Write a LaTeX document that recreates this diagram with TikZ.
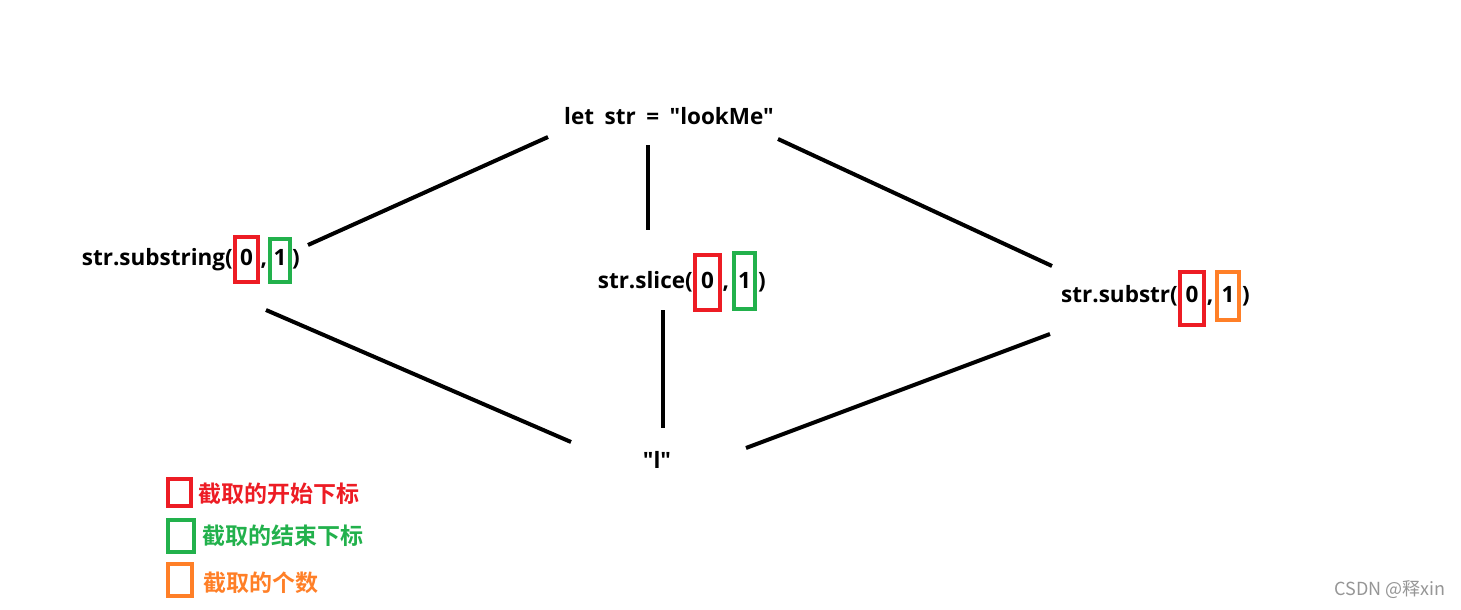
\documentclass[tikz,border=0pt]{standalone}
\usepackage{fontspec}
\newfontfamily\codefont{Open Sans Bold}[WordSpace=1.8]
\newfontfamily\cjk{Noto Sans CJK SC Bold}
\newfontfamily\cjklight{Noto Sans CJK SC}
\definecolor{boxred}{RGB}{237,28,36}
\definecolor{boxgreen}{RGB}{34,177,76}
\definecolor{boxorange}{RGB}{255,127,39}
\definecolor{markgray}{RGB}{150,150,150}
\tikzset{
  code/.style={font=\fontsize{22.5}{26}\selectfont\codefont, inner sep=0pt},
  key/.style={font=\fontsize{23}{27}\selectfont\cjk, inner sep=0pt, anchor=west},
  idx/.style={draw=#1, line width=4pt},
  edge/.style={line width=4pt}
}

\begin{document}
\begin{tikzpicture}[x=1pt,y=-1pt]
        \useasboundingbox[fill=white] (0,0) rectangle (1461,610);
        % top
        \node[code, anchor=base] (let) at (669,124) {let str = "lookMe"};
        % str.substring
        \draw[idx=boxred] (235,237) rectangle (258,282);
        \draw[idx=boxgreen] (270,239) rectangle (290,282);
        \node[code, anchor=base east] (sub) at (233,265) {str.substring(};
        \node[code, anchor=base] (sub0) at (246.5,265) {0};
        \node[code, anchor=base] (subc) at (264,265) {,};
        \node[code, anchor=base] (sub1) at (280,265) {1};
        \node[code, anchor=base west] (subp) at (292,265) {)};
        % str.slice
        \draw[idx=boxred] (695,255) rectangle (720,310);
        \draw[idx=boxgreen] (734,253) rectangle (755,309);
        \node[code, anchor=base east] (sli) at (693,288) {str.slice(};
        \node[code, anchor=base] (sli0) at (707.5,288) {0};
        \node[code, anchor=base] (slic) at (726,288) {,};
        \node[code, anchor=base] (sli1) at (744.5,288) {1};
        \node[code, anchor=base west] (slip) at (758,288) {)};
        % str.substr
        \draw[idx=boxred] (1180,272) rectangle (1204,325);
        \draw[idx=boxorange] (1217,272) rectangle (1239,320);
        \node[code, anchor=base east] (str) at (1178,302) {str.substr(};
        \node[code, anchor=base] (str0) at (1192,302) {0};
        \node[code, anchor=base] (strc) at (1210,302) {,};
        \node[code, anchor=base] (str1) at (1228,302) {1};
        \node[code, anchor=base west] (strp) at (1242,302) {)};
        % result
        \node[code, anchor=base] (res) at (657,468) {"l"};
        % line ends
        \coordinate (let-l) at (548,137);
        \coordinate (let-m) at (648,145);
        \coordinate (let-r) at (778,139);
        \coordinate (sub-t) at (308,245);
        \coordinate (sli-t) at (648,230);
        \coordinate (str-t) at (1052,266);
        \coordinate (sub-b) at (266,310);
        \coordinate (sli-b) at (663,310);
        \coordinate (str-b) at (1050,334);
        \coordinate (res-l) at (571,442);
        \coordinate (res-m) at (663,428);
        \coordinate (res-r) at (746,448);
        \draw[edge] (let-l) -- (sub-t);
        \draw[edge] (let-m) -- (sli-t);
        \draw[edge] (let-r) -- (str-t);
        \draw[edge] (sub-b) -- (res-l);
        \draw[edge] (sli-b) -- (res-m);
        \draw[edge] (str-b) -- (res-r);
        % legend
        \draw[idx=boxred] (168,479) rectangle (191,506);
        \draw[idx=boxgreen] (168,520) rectangle (194,552);
        \draw[idx=boxorange] (168,564) rectangle (192,596);
        \node[key, text=boxred] (k1) at (198,494) {截取的开始下标};
        \node[key, text=boxgreen] (k2) at (202,536) {截取的结束下标};
        \node[key, text=boxorange] (k3) at (203,583) {截取的个数};
        % watermark
        \node[font=\fontsize{18}{21}\selectfont\cjklight, text=markgray, inner sep=0pt, anchor=east] (mark) at (1446,590) {CSDN @释xin};
      \end{tikzpicture}
\end{document}
